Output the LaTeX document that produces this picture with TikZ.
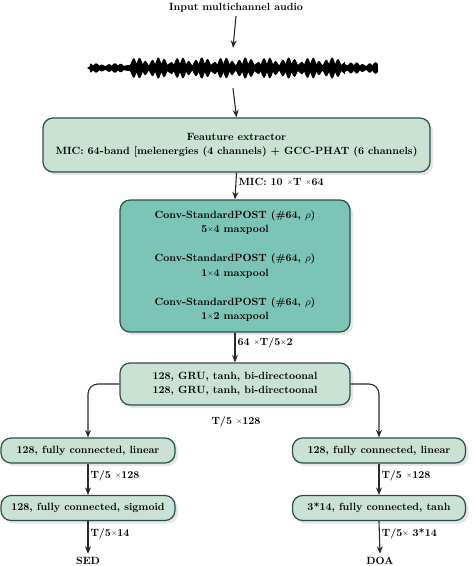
\documentclass[tikz,border=0pt]{standalone}
\usetikzlibrary{arrows.meta,shadows,positioning}
\definecolor{boxfill}{HTML}{C9E2D3}
\definecolor{convfill}{HTML}{7CC5B5}
\definecolor{boxline}{HTML}{27504C}
\definecolor{arr}{HTML}{2A2A2A}
\pgfmathdeclarefunction{wvamp}{1}{%
  \pgfmathparse{1.3+((#1<130)?3.4:((#1<345)?9.2:4.4))*(0.3+0.7*abs(sin(#1*29)))*(0.4+0.6*abs(sin(#1*8.3+30)))}%
}
\newcommand{\tm}{\raisebox{0.8pt}{\scriptsize$\times$}}
\begin{document}
\begin{tikzpicture}[x=1pt,y=-1pt,
  font=\bfseries\fontsize{10.5}{14.5}\selectfont,
  blk/.style={draw=boxline, line width=1.2pt, fill=boxfill, rounded corners=10pt, align=center,
    drop shadow={shadow xshift=3pt, shadow yshift=-3pt, opacity=0.2, fill=gray}},
  conv/.style={blk, fill=convfill},
  con/.style={draw=arr, line width=1.1pt, -{Stealth[length=7.5pt,width=6pt]}},
  lbl/.style={inner sep=2pt}]
\useasboundingbox (0,0) rectangle (474,566);

\node (in) at (236,8) {Input multichannel audio};
\node (wave) [minimum width=292pt, minimum height=40pt, inner sep=0pt] at (233,68) {};
\fill[black] plot[domain=90:378,samples=720] (\x,{68-wvamp(\x)})
  -- plot[domain=378:90,samples=720] (\x,{68+wvamp(\x)}) -- cycle;
\fill[black] (87,68) -- (92,65) -- (92,71) -- cycle;

\node[blk, minimum width=387pt, minimum height=54pt] (feat) at (236.5,145)
  {Feauture extractor\\MIC: 64-band [melenergies (4 channels) + GCC-PHAT (6 channels)};
\node[conv, minimum width=230pt, minimum height=132pt] (cnn) at (235,266)
  {Conv-StandardPOST (\#64, $\rho$)\\5\tm4 maxpool\\[14.5pt]
   Conv-StandardPOST (\#64, $\rho$)\\1\tm4 maxpool\\[14.5pt]
   Conv-StandardPOST (\#64, $\rho$)\\1\tm2 maxpool};
\node[blk, minimum width=230pt, minimum height=42pt] (gru) at (235,384)
  {128, GRU, tanh, bi-directoonal\\128, GRU, tanh, bi-directoonal};
\node (tlab) at (236,422) {T/5 \tm128};

\node[blk, minimum width=174pt, minimum height=25pt] (fl1) at (88,450.5) {128, fully connected, linear};
\node[blk, minimum width=174pt, minimum height=25pt] (fl2) at (88,508) {128, fully connected, sigmoid};
\node[blk, minimum width=173pt, minimum height=25pt] (fr1) at (379,450.5) {128, fully connected, linear};
\node[blk, minimum width=173pt, minimum height=25pt] (fr2) at (379,508) {3*14, fully connected, tanh};
\node (sed) at (88,561) {SED};
\node (doa) at (380,561) {DOA};

\draw[con] (in.south) -- (wave.north);
\draw[con] (wave.south) -- (feat.north);
\draw[con] (feat.south) -- node[lbl, right, pos=0.35] {MIC: 10 \tm T \tm64} (cnn.north);
\draw[con] (cnn.south) -- node[lbl, right, pos=0.35] {64 \tm T/5\tm2} (gru.north);
\draw[con, rounded corners=10pt] (gru.west) -| (fl1.north);
\draw[con, rounded corners=10pt] (gru.east) -| (fr1.north);
\draw[con] (fl1.south) -- node[lbl, right, pos=0.4] {T/5 \tm128} (fl2.north);
\draw[con] (fr1.south) -- node[lbl, right, pos=0.4] {T/5 \tm128} (fr2.north);
\draw[con] (fl2.south) -- node[lbl, right, pos=0.4] {T/5\tm14} (sed.north);
\draw[con] (fr2.south) -- node[lbl, right, pos=0.4] {T/5\tm\ 3*14} (doa.north);
\end{tikzpicture}
\end{document}
